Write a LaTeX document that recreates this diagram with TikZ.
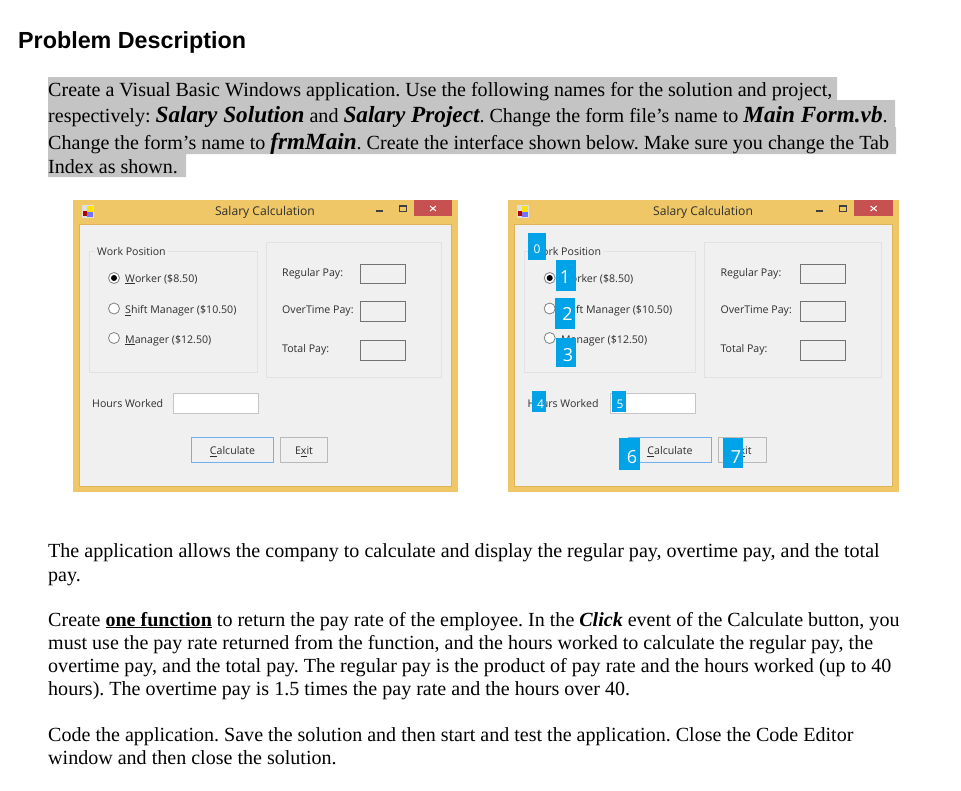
\documentclass[tikz,border=0pt]{standalone}
\usepackage{fontspec}
\setmainfont{Liberation Serif}
\newfontfamily\headfont{Liberation Sans}
\newfontfamily\formfont{Open Sans}
\frenchspacing
\definecolor{winframe}{HTML}{F0C766}
\definecolor{winedge}{HTML}{DDB45A}
\definecolor{panel}{HTML}{F0F0F0}
\definecolor{panelline}{HTML}{E2E2E2}
\definecolor{closered}{HTML}{C75050}
\definecolor{tabblue}{HTML}{00A2E8}
\definecolor{hilite}{HTML}{C4C4C4}
\definecolor{btnblue}{HTML}{70B0EE}
\definecolor{formink}{HTML}{2E2E2E}
\newcommand\bignames{\fontsize{23.2}{24}\selectfont\bfseries\itshape}
\tikzset{
  bodyline/.style={anchor=base west,inner sep=0pt,font=\fontsize{20.05}{24}\selectfont},
  formtext/.style={inner sep=0pt,text=formink,font=\fontsize{10.6}{13}\selectfont\formfont},
  formleft/.style={formtext,anchor=west},
  groupline/.style={draw=panelline,line width=.8pt},
  paybox/.style={draw=black!55,line width=.9pt,fill=panel},
  radio/.style={circle,draw=gray,fill=white,line width=.8pt,minimum size=11pt,inner sep=0pt},
  tabidx/.style={fill=tabblue,text=white,inner sep=0pt,font=\formfont},
}
\begin{document}
\begin{tikzpicture}[x=1pt,y=-1pt]
  \useasboundingbox (0,0) rectangle (961,790);
  \node[anchor=base west,inner sep=0pt,font=\fontsize{23.3}{28}\selectfont\headfont\bfseries] (title) at (18,48) {Problem Description};
  % grey marking behind the first paragraph
  \fill[hilite] (48,77) rectangle (837,100) (48,100) rectangle (895,127) (48,127) rectangle (896,154) (48,154) rectangle (186,177);
  \node[bodyline] (desc1) at (48,96) {Create a Visual Basic Windows application. Use the following names for the solution and project,};
  \node[bodyline] (desc2) at (48,122) {respectively: {\bignames Salary Solution} and {\bignames Salary Project}. Change the form file’s name to {\bignames Main Form.vb}.};
  \node[bodyline] (desc3) at (48,149) {Change the form’s name to {\bignames frmMain}. Create the interface shown below. Make sure you change the Tab};
  \node[bodyline] (desc4) at (48,173) {Index as shown.};
  % the two forms
  \foreach \win/\sx/\ox in {L/1/0,R/1.0156/433.9}{
    \begin{scope}[xshift=\ox,xscale=\sx]
      \fill[winframe] (73,200) rectangle (458,492);
      \draw[winedge,fill=panel] (79,224) rectangle (451,486);
      \fill[gray!25] (81.5,205) rectangle (93.5,218);
      \fill[red!70!black] (82.5,211) rectangle (87,216);
      \fill[yellow!85!orange] (86.5,206) rectangle (92.5,212);
      \fill[blue!55] (87,212) rectangle (92.5,216.5);
      \node[formtext,font=\fontsize{12.1}{14}\selectfont\formfont] (\win-title) at (265,212.5) {Salary Calculation};
      \fill[black!75] (376,209.5) rectangle (383,211.5);
      \draw[black!75,line width=.8pt] (399,205.5) rectangle (406.5,211) (399,206.2) -- (406.5,206.2);
      \fill[closered] (414,200) rectangle (452,216);
      \draw[white,line width=1pt] (430,206) -- (436,211) (430,211) -- (436,206);
      \draw[groupline] (89.5,251) rectangle (257.5,372.5);
      \node[formleft,fill=panel,inner xsep=2pt] (\win-group) at (95,252) {Work Position};
      \node[radio] (\win-r1) at (114,278) {};
      \fill[black] (\win-r1) circle [radius=3];
      \node[radio] (\win-r2) at (114,308.5) {};
      \node[radio] (\win-r3) at (114,338) {};
      \node[formleft] (\win-worker) at (125,279) {\underline{W}orker (\$8.50)};
      \node[formleft] (\win-shift) at (125,310.5) {\underline{S}hift Manager (\$10.50)};
      \node[formleft] (\win-manager) at (125,340.5) {\underline{M}anager (\$12.50)};
      \draw[groupline] (266.5,242.5) rectangle (441,377);
      \foreach \nm/\lab/\ty in {reg/Regular Pay:/273.5,over/OverTime Pay:/310.5,tot/Total Pay:/349.5}{
        \node[formleft] (\win-\nm) at (282,\ty) {\lab};
      }
      \draw[paybox] (360.5,264) rectangle (405,283.5);
      \draw[paybox] (360.5,301.5) rectangle (405,321);
      \draw[paybox] (360.5,340.5) rectangle (405,360);
      \node[formleft] (\win-hours) at (92,403.5) {Hours Worked};
      \draw[gray!45,fill=white,line width=.9pt] (173.5,393) rectangle (258,413.5);
      \draw[btnblue,fill=panel,line width=.9pt] (191.5,437.5) rectangle (273.5,462.5) node[midway,formtext,yshift=-1.5pt] (\win-calc) {\underline{C}alculate};
      \draw[gray!55,fill=panel,line width=.9pt] (280.5,437.5) rectangle (327.5,462.5) node[midway,formtext,yshift=-1.5pt] (\win-exit) {E\underline{x}it};
    \end{scope}
  }
  % tab order marks on the right form
  \foreach \n/\cx/\cy/\w/\h/\fs/\dy/\dx in {0/537/246.5/18/27/12/2.5/0,1/566/275.5/20/31/18/1.5/-2,2/565/313.5/20/31/18/.5/5,3/566/352/20/29/18/3/4,4/539/401.5/14/21/12/2.5/3,5/619/401.5/14/21/12/2.5/2,6/629.5/453.5/21/32/18/3.5/5,7/733/453/20/30/18/4/6}{
    \node[tabidx,minimum width=\w pt,minimum height=\h pt,font=\fontsize{\fs}{\fs}\selectfont\formfont] (tab\n) at (\cx,\cy) {\smash{\raisebox{-\dimexpr .36em+\dy pt\relax}{\hspace*{\dx pt}\n}}};
  }
  \node[bodyline] (app1) at (48,557) {The application allows the company to calculate and display the regular pay, overtime pay, and the total};
  \node[bodyline] (app2) at (48,581) {pay.};
  \node[bodyline] (fun1) at (48,626) {Create \underline{\textbf{one function}} to return the pay rate of the employee. In the \textbf{\textit{Click}} event of the Calculate button, you};
  \node[bodyline] (fun2) at (48,649) {must use the pay rate returned from the function, and the hours worked to calculate the regular pay, the};
  \node[bodyline] (fun3) at (48,672) {overtime pay, and the total pay. The regular pay is the product of pay rate and the hours worked (up to 40};
  \node[bodyline] (fun4) at (48,695) {hours). The overtime pay is 1.5 times the pay rate and the hours over 40.};
  \node[bodyline] (code1) at (48,741) {Code the application. Save the solution and then start and test the application. Close the Code Editor};
  \node[bodyline] (code2) at (48,764) {window and then close the solution.};
\end{tikzpicture}
\end{document}
